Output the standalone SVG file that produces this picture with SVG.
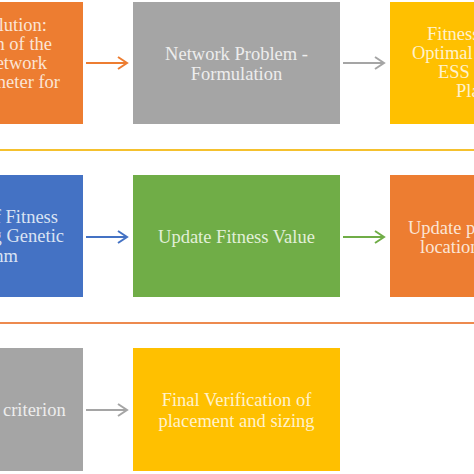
<svg xmlns="http://www.w3.org/2000/svg" width="474" height="474" viewBox="0 0 474 474">
<defs>
<style>
text{font-family:"Liberation Serif","Times New Roman",serif;font-size:18.5px}
.c{text-anchor:middle}
.e{text-anchor:end}
.orange{fill:#ED7D31}.gray{fill:#A5A5A5}.yellow{fill:#FFC000}.blue{fill:#4472C4}.green{fill:#70AD47}
.tor{fill:#FBE5D6}.tgr{fill:#EDEDED}.tye{fill:#FFF2CC}.tbl{fill:#DAE3F3}.tgn{fill:#E2F0D9}
.arr{fill:none;stroke-width:2}
</style>
<marker id="mo" markerWidth="12" markerHeight="14" refX="10" refY="7" orient="auto" markerUnits="userSpaceOnUse"><path d="M1,1 L10,7 L1,13" fill="none" stroke="#ED7D31" stroke-width="2"/></marker>
<marker id="mg" markerWidth="12" markerHeight="14" refX="10" refY="7" orient="auto" markerUnits="userSpaceOnUse"><path d="M1,1 L10,7 L1,13" fill="none" stroke="#A5A5A5" stroke-width="2"/></marker>
<marker id="mb" markerWidth="12" markerHeight="14" refX="10" refY="7" orient="auto" markerUnits="userSpaceOnUse"><path d="M1,1 L10,7 L1,13" fill="none" stroke="#4472C4" stroke-width="2"/></marker>
<marker id="mn" markerWidth="12" markerHeight="14" refX="10" refY="7" orient="auto" markerUnits="userSpaceOnUse"><path d="M1,1 L10,7 L1,13" fill="none" stroke="#70AD47" stroke-width="2"/></marker>
</defs>
<rect width="474" height="474" fill="#ffffff"/>
<g id="separators">
<line x1="0" y1="150" x2="474" y2="150" stroke="#F5C12E" stroke-width="2"/>
<line x1="0" y1="323" x2="474" y2="323" stroke="#ED8A4F" stroke-width="2"/>
</g>
<g id="n-initial">
<rect class="orange" x="-124" y="2" width="207" height="122"/>
<text class="tor e" x="47" y="31">lution:</text>
<text class="tor e" x="52" y="50">n of the</text>
<text class="tor e" x="47" y="69">etwork</text>
<text class="tor e" x="60" y="88">neter for</text>
</g>
<g id="n-network">
<rect class="gray" x="133" y="2" width="207" height="122"/>
<text class="tgr c" x="236.5" y="60">Network Problem -</text>
<text class="tgr c" x="236.5" y="80">Formulation</text>
</g>
<g id="n-fitness">
<rect class="yellow" x="390" y="2" width="207" height="122"/>
<text class="tye" x="427" y="40">Fitness</text>
<text class="tye" x="412" y="59">Optimal</text>
<text class="tye" x="438" y="78">ESS</text>
<text class="tye" x="456" y="97">Pla</text>
</g>
<g id="n-evaluation">
<rect class="blue" x="-124" y="175" width="207" height="122"/>
<text class="tbl e" x="58" y="223">f Fitness</text>
<text class="tbl e" x="64" y="242">g Genetic</text>
<text class="tbl e" x="18" y="262">hm</text>
</g>
<g id="n-update-fitness">
<rect class="green" x="133" y="175" width="207" height="122"/>
<text class="tgn c" x="236.5" y="243">Update Fitness Value</text>
</g>
<g id="n-update-location">
<rect class="orange" x="390" y="175" width="207" height="122"/>
<text class="tor" x="408" y="234">Update p</text>
<text class="tor" x="420" y="253">location</text>
</g>
<g id="n-criterion">
<rect class="gray" x="-124" y="348" width="207" height="123"/>
<text class="tgr" x="3" y="416">criterion</text>
</g>
<g id="n-final">
<rect class="yellow" x="133" y="348" width="207" height="123"/>
<text class="tye c" x="236.5" y="406">Final Verification of</text>
<text class="tye c" x="236.5" y="427">placement and sizing</text>
</g>
<g id="connectors">
<line class="arr" x1="86" y1="63" x2="127" y2="63" stroke="#ED7D31" marker-end="url(#mo)"/>
<line class="arr" x1="343" y1="63" x2="384" y2="63" stroke="#A5A5A5" marker-end="url(#mg)"/>
<line class="arr" x1="86" y1="237" x2="127" y2="237" stroke="#4472C4" marker-end="url(#mb)"/>
<line class="arr" x1="343" y1="237" x2="384" y2="237" stroke="#70AD47" marker-end="url(#mn)"/>
<line class="arr" x1="86" y1="410" x2="127" y2="410" stroke="#A5A5A5" marker-end="url(#mg)"/>
</g>
</svg>
